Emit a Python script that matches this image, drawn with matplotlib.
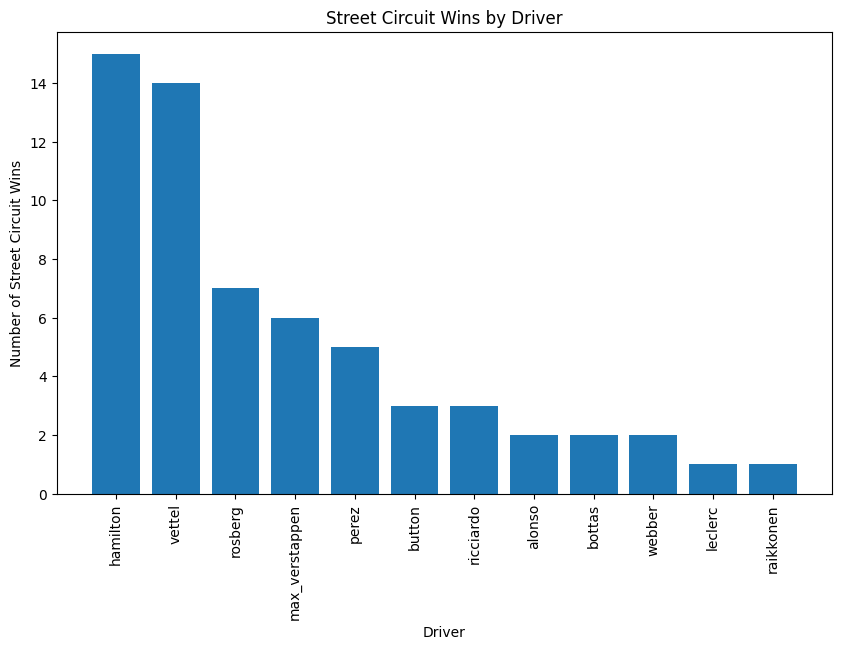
import matplotlib
matplotlib.use("Agg")
import matplotlib.pyplot as plt

# street circuit wins per driver
drivers = ['hamilton', 'vettel', 'rosberg', 'max_verstappen', 'perez', 'button',
           'ricciardo', 'alonso', 'bottas', 'webber', 'leclerc', 'raikkonen']
wins = [15, 14, 7, 6, 5, 3, 3, 2, 2, 2, 1, 1]

plt.figure(figsize=(10, 6))
plt.bar(drivers, wins)

plt.title('Street Circuit Wins by Driver')
plt.xlabel('Driver')
plt.ylabel('Number of Street Circuit Wins')
plt.xticks(rotation=90)

plt.savefig('out.png', dpi=100, bbox_inches='tight')
